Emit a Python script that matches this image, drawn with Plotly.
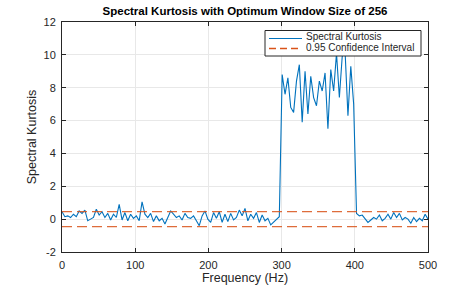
import numpy as np
import plotly.graph_objects as go

# Frequency bins (Hz): 129 bins, 0..500 Hz
freq = np.arange(129) * 500 / 128

sk_low = [0.45, 0.15, 0.2, 0.1, 0.3, 0.15, 0.5, 0.35, 0.55, -0.1,
          0.0, 0.1, 0.6, 0.25, 0.45, 0.1, 0.35, -0.05, 0.3, 0.1,
          0.9, -0.05, 0.4, -0.1, 0.3, 0.05, 0.2, -0.1, 1.05, 0.3,
          0.1, 0.35, -0.15, 0.2, -0.1, 0.05, -0.3, 0.15, 0.5, 0.3,
          0.1, 0.2, -0.05, 0.35, 0.1, 0.05, 0.2, -0.1, -0.4, 0.2,
          0.5, 0.0, -0.2, 0.4, 0.05, 0.45, -0.2, 0.3, -0.15, 0.35,
          -0.05, 0.1, 0.55, 0.2, 0.65, -0.1, 0.3, 0.05, 0.4, -0.2,
          0.25, -0.1, 0.05, -0.35, -0.2, 0.0, 0.15]
sk_band = [8.8, 7.6, 8.6, 6.8, 6.5, 8.4, 9.4, 5.9, 9.0, 6.4,
           8.7, 7.4, 6.9, 8.4, 7.8, 8.9, 5.5, 9.1, 7.8, 10.1,
           7.4, 9.9, 10.2, 6.3, 9.3, 7.0]
sk_high = [0.35, 0.2, 0.25, 0.0, -0.2, -0.05, 0.1, 0.0, 0.25, -0.1,
           0.05, 0.3, 0.0, 0.4, 0.1, 0.35, -0.05, 0.1, 0.0, -0.25,
           0.1, -0.15, 0.05, -0.1, 0.3, 0.0]
sk = sk_low + sk_band + sk_high

ci_level = 0.46
ci_x = [0, 500, None, 0, 500]
ci_y = [ci_level, ci_level, None, -ci_level, -ci_level]

x_ticks = [0, 100, 200, 300, 400, 500]
y_ticks = [-2, 0, 2, 4, 6, 8, 10, 12]
legend_names = ["Spectral Kurtosis", "0.95 Confidence Interval"]

FONT = "Arial, Liberation Sans, sans-serif"
TXT = "#262626"
BLUE = "#0072BD"
ORANGE = "#D95319"

# plot area in pixels
L, R, T, B = 62, 428, 22, 252
W, H = 474, 285

def px(xp):
    return (xp - L) / (R - L)

def py(yp):
    return (B - yp) / (B - T)

fig = go.Figure()
fig.add_trace(go.Scatter(x=freq, y=sk, mode="lines", name=legend_names[0],
                         line=dict(color=BLUE, width=1.1), showlegend=False))
fig.add_trace(go.Scatter(x=ci_x, y=ci_y, mode="lines", name=legend_names[1],
                         line=dict(color=ORANGE, width=1.3, dash="10px,5px"),
                         opacity=0.85, showlegend=False))

axis_common = dict(showline=True, linecolor=TXT, linewidth=1, mirror="ticks",
                   ticks="inside", ticklen=4, tickcolor=TXT,
                   showgrid=True, gridcolor="#e8e8e8", gridwidth=1,
                   zeroline=False, automargin=False, ticklabelstandoff=3,
                   tickfont=dict(family=FONT, size=11, color=TXT))

# legend drawn as box + line samples + labels
shapes = [dict(type="rect", xref="paper", yref="paper",
               x0=px(265), x1=px(421), y0=py(56), y1=py(30.5),
               fillcolor="white", line=dict(color=TXT, width=1), layer="above")]
annotations = []
entry_y = [38.5, 48.5]
entry_style = [dict(color=BLUE, width=1.1), dict(color=ORANGE, width=1.3, dash="7px,4px")]
for yy, st, name in zip(entry_y, entry_style, legend_names):
    shapes.append(dict(type="line", xref="paper", yref="paper",
                       x0=px(269), x1=px(302), y0=py(yy), y1=py(yy),
                       line=st, layer="above"))
    annotations.append(dict(text=name, xref="paper", yref="paper",
                            x=px(304.5), y=py(yy - 1.5), xanchor="left", yanchor="middle",
                            showarrow=False, borderpad=0,
                            font=dict(family=FONT, size=10, color=TXT)))

fig.update_layout(
    width=W, height=H,
    margin=dict(l=L, r=W - R, t=T, b=H - B),
    paper_bgcolor="white", plot_bgcolor="white",
    title=dict(text="<b>Spectral Kurtosis with Optimum Window Size of 256</b>",
               x=(L + R) / 2 / W, xanchor="center", y=1 - 11 / H, yanchor="middle",
               font=dict(family=FONT, size=11.5, color="black")),
    xaxis=dict(range=[0, 500], tickvals=x_ticks, ticktext=[str(v) for v in x_ticks],
               title=dict(text="Frequency (Hz)", standoff=2,
                          font=dict(family=FONT, size=12.5, color=TXT)),
               **axis_common),
    yaxis=dict(range=[-2, 12], tickvals=y_ticks, ticktext=[str(v) for v in y_ticks],
               title=dict(text="Spectral Kurtosis", standoff=4,
                          font=dict(family=FONT, size=12.5, color=TXT)),
               **axis_common),
    shapes=shapes,
    annotations=annotations,
    showlegend=False,
)

fig.write_html("out.html")
